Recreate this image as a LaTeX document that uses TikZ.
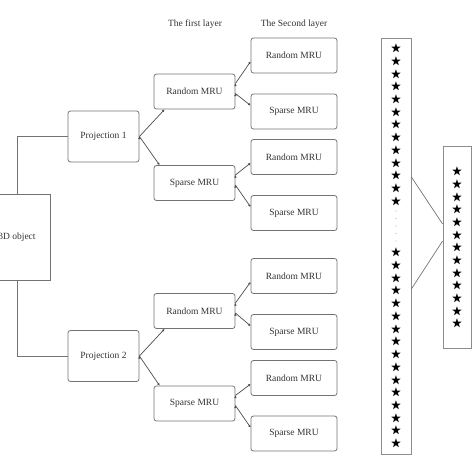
\documentclass[tikz,border=0pt]{standalone}
\usepackage{fontspec}
\setmainfont{Liberation Serif}
\usepackage{amssymb}
\usetikzlibrary{arrows.meta}
\begin{document}
\begin{tikzpicture}[x=1pt,y=-1pt,font=\fontsize{9.5}{11}\selectfont,
  box/.style={draw=black!55,line width=0.8pt,rounded corners=2.5pt,text=black!80,inner sep=0pt},
  lay1/.style={box,minimum width=81pt,minimum height=35pt},
  lay2/.style={box,minimum width=86pt,minimum height=35pt},
  arr/.style={draw=black!70,line width=0.7pt,-{Latex[length=2.5pt,width=2.5pt]}},
  col/.style={draw=black!45,line width=0.8pt,inner sep=0pt},
  starmark/.style={inner sep=0pt,font=\fontsize{11}{11}\selectfont}]
\useasboundingbox (0,0) rectangle (474,474);
\node[box,rounded corners=0pt,minimum width=66pt,minimum height=86pt](obj) at (17,237){3D object};
\node[box,minimum width=71pt,minimum height=51pt](p1) at (103.5,136.5){Projection 1};
\node[box,minimum width=71pt,minimum height=51pt](p2) at (103.5,356){Projection 2};
\node[text=black!80](h1) at (195,24){The first layer};
\node[text=black!80](h2) at (294,24){The Second layer};
% first layer
\node[lay1](r1) at (194.5,91.5){Random MRU};
\node[lay1](s1) at (194.5,183){Sparse MRU};
\node[lay1](r2) at (194.5,311){Random MRU};
\node[lay1](s2) at (194.5,403.5){Sparse MRU};
% second layer
\node[lay2](r1a) at (294,55.5){Random MRU};
\node[lay2](r1b) at (294,111.5){Sparse MRU};
\node[lay2](s1a) at (294,157){Random MRU};
\node[lay2](s1b) at (294,213){Sparse MRU};
\node[lay2](r2a) at (294,276){Random MRU};
\node[lay2](r2b) at (294,332){Sparse MRU};
\node[lay2](s2a) at (294,378){Random MRU};
\node[lay2](s2b) at (294,433.5){Sparse MRU};
% feature columns
\node[col,minimum width=30pt,minimum height=416pt](left) at (396,246){};
\node[col,minimum width=28pt,minimum height=202pt](right) at (457,247){};
\foreach \k in {0,...,12} \node[starmark] at (396,49+12.7*\k){$\bigstar$};
\foreach \k in {0,...,4} \fill[black!30] (396,211+7.5*\k) circle (0.6pt);
\foreach \k in {0,...,15} \node[starmark] at (396,253+12.73*\k){$\bigstar$};
\foreach \k in {0,...,12} \node[starmark] at (457,172+12.67*\k){$\bigstar$};
\draw[draw=black!55,line width=0.7pt] ([yshift=69pt]left.east) -- ([yshift=23pt]right.west);
\draw[draw=black!55,line width=0.7pt] ([yshift=-43pt]left.east) -- ([yshift=6pt]right.west);
% object to projections
\draw[draw=black!55,line width=0.8pt] (obj.north) |- (p1.west);
\draw[draw=black!55,line width=0.8pt] (obj.south) |- (p2.west);
% projections to first layer
\path[arr] (p1.east) edge ([xshift=11pt]r1.south west) edge ([xshift=6pt]s1.north west);
\path[arr] (p2.east) edge ([xshift=11pt]r2.south west) edge ([xshift=6pt]s2.north west);
% first layer to second layer
\path[arr] ([yshift=8pt]r1.east) edge ([yshift=-6pt]r1a.west);
\path[arr] ([yshift=-2pt]r1.east) edge ([yshift=6pt]r1b.west);
\path[arr] ([yshift=8pt]s1.east) edge ([yshift=-6pt]s1a.west);
\path[arr] ([yshift=-2pt]s1.east) edge ([yshift=6pt]s1b.west);
\path[arr] ([yshift=8pt]r2.east) edge ([yshift=-6pt]r2a.west);
\path[arr] ([yshift=-2pt]r2.east) edge ([yshift=6pt]r2b.west);
\path[arr] ([yshift=8pt]s2.east) edge ([yshift=-6pt]s2a.west);
\path[arr] ([yshift=-2pt]s2.east) edge ([yshift=6pt]s2b.west);
\end{tikzpicture}
\end{document}
